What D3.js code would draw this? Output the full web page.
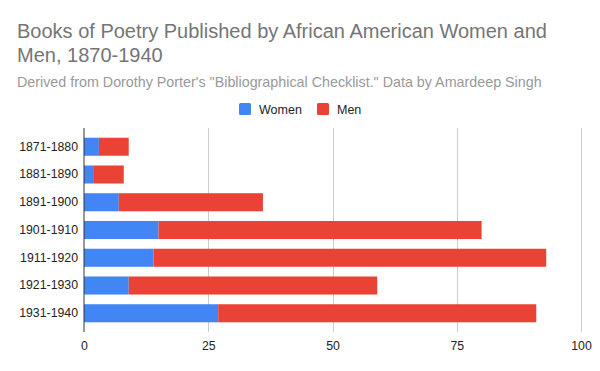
<!DOCTYPE html>
<html lang="en">
<head>
    <meta charset="UTF-8">
    <title>Books of Poetry by African American Women and Men</title>
    <script src="https://d3js.org/d3.v7.min.js"></script>
    <style>
        body { margin: 0; background: #fff; }
        text { font-family: "Liberation Sans", Arial, sans-serif; }
    </style>
</head>
<body>
    <div id="chart"></div>
    <script>
        // data
        var decades = ["1871-1880", "1881-1890", "1891-1900", "1901-1910", "1911-1920", "1921-1930", "1931-1940"];
        var women = [3, 2, 7, 15, 14, 9, 27];
        var men = [6, 6, 29, 65, 79, 50, 64];
        var seriesNames = ["Women", "Men"];
        var xTicks = [0, 25, 50, 75, 100];

        var colors = ["#4285f4", "#ea4335"];

        var width = 600, height = 371;
        var margin = { top: 128, right: 19, bottom: 39, left: 84 };

        var svg = d3.select("#chart").append("svg")
            .attr("width", width)
            .attr("height", height);

        // title + subtitle
        svg.append("text")
            .attr("x", 17).attr("y", 38)
            .style("font-size", "20px").attr("fill", "#757575")
            .text("Books of Poetry Published by African American Women and");
        svg.append("text")
            .attr("x", 17).attr("y", 62)
            .style("font-size", "20px").attr("fill", "#757575")
            .text("Men, 1870-1940");
        svg.append("text")
            .attr("x", 17).attr("y", 87)
            .style("font-size", "14.3px").attr("fill", "#999999")
            .text("Derived from Dorothy Porter's \"Bibliographical Checklist.\" Data by Amardeep Singh");

        var table = decades.map(function (d, i) {
            return { decade: d, Women: women[i], Men: men[i] };
        });
        var stacked = d3.stack().keys(seriesNames)(table);

        var x = d3.scaleLinear()
            .domain([0, 100])
            .range([margin.left, width - margin.right]);

        var y = d3.scaleBand()
            .domain(decades)
            .range([margin.top, height - margin.bottom])
            .padding(0.35);

        // gridlines
        svg.append("g")
            .selectAll("line")
            .data(xTicks.slice(1))
            .join("line")
            .attr("x1", function (d) { return Math.round(x(d)) + 0.5; })
            .attr("x2", function (d) { return Math.round(x(d)) + 0.5; })
            .attr("y1", margin.top)
            .attr("y2", height - margin.bottom)
            .attr("stroke", "#cccccc");

        // bars
        svg.append("g")
            .selectAll("g")
            .data(stacked)
            .join("g")
            .attr("fill", function (d, i) { return colors[i]; })
            .selectAll("rect")
            .data(function (d) { return d; })
            .join("rect")
            .attr("x", function (d) { return x(d[0]); })
            .attr("y", function (d) { return y(d.data.decade); })
            .attr("width", function (d) { return x(d[1]) - x(d[0]); })
            .attr("height", y.bandwidth());

        // axis line at zero
        svg.append("line")
            .attr("x1", x(0)).attr("x2", x(0))
            .attr("y1", margin.top).attr("y2", height - margin.bottom)
            .attr("stroke", "#333333");

        // y labels
        var yAxis = svg.append("g")
            .attr("transform", "translate(" + (x(0) - 6) + ",0)")
            .call(d3.axisLeft(y).tickSize(0).tickPadding(0));
        yAxis.select(".domain").remove();
        yAxis.selectAll("text")
            .style("font-size", "12.3px")
            .attr("fill", "#222222");

        // x labels
        var xAxis = svg.append("g")
            .attr("transform", "translate(0," + (height - margin.bottom) + ")")
            .call(d3.axisBottom(x).tickValues(xTicks).tickSize(0).tickPadding(9));
        xAxis.select(".domain").remove();
        xAxis.selectAll("text")
            .style("font-size", "12.3px")
            .attr("fill", "#222222");

        // legend
        var legendX = [239, 317];
        var legend = svg.append("g")
            .selectAll("g")
            .data(seriesNames)
            .join("g")
            .attr("transform", function (d, i) { return "translate(" + legendX[i] + ",103)"; });
        legend.append("rect")
            .attr("width", 12).attr("height", 12)
            .attr("rx", 1.5)
            .attr("fill", function (d, i) { return colors[i]; });
        legend.append("text")
            .attr("x", 20).attr("y", 10.5)
            .style("font-size", "12.5px")
            .attr("fill", "#222222")
            .text(function (d) { return d; });
    </script>
</body>
</html>
